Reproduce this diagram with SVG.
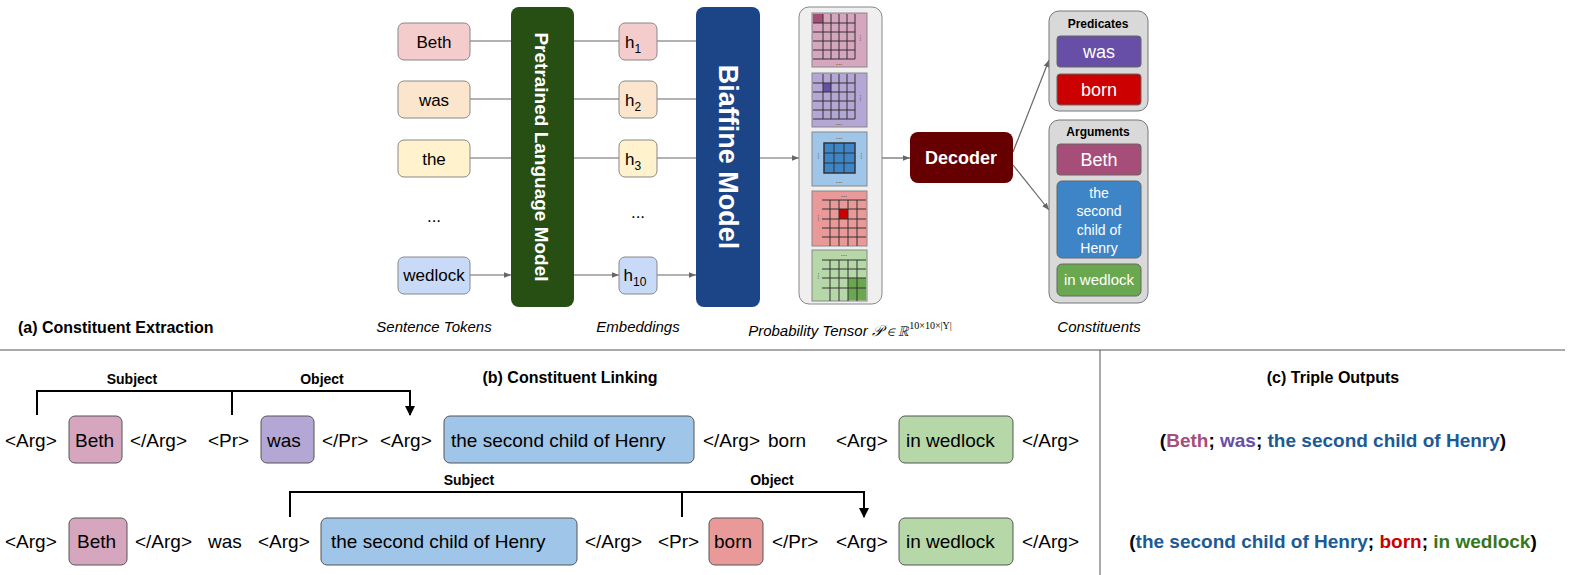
<svg xmlns="http://www.w3.org/2000/svg" width="1578" height="575" viewBox="0 0 1578 575">
<defs>
<marker id="ah" viewBox="0 0 10 10" refX="10" refY="5" markerWidth="6" markerHeight="6" orient="auto"><path d="M0,1 L10,5 L0,9 z" fill="#666"/></marker>
<marker id="bh" viewBox="0 0 10 10" refX="9" refY="5" markerWidth="5" markerHeight="5" orient="auto"><path d="M0,0 L10,5 L0,10 z" fill="#000"/></marker>
<style>
text{font-family:"Liberation Sans",Arial,sans-serif}
.tok{stroke:#888;stroke-width:1}
.t{font-size:17px;fill:#000;text-anchor:middle}
.w{fill:#fff;text-anchor:middle}
.cap{font-size:15px;font-style:italic;text-anchor:middle}
.b{font-weight:bold}
.con{stroke:#666;stroke-width:1.2;fill:none;marker-end:url(#ah)}
.br{stroke:#000;stroke-width:2;fill:none}
.bra{stroke:#000;stroke-width:2;fill:none;marker-end:url(#bh)}
.s{font-size:19px;fill:#000}
.lb{font-size:14px;font-weight:bold;text-anchor:middle}
.g{stroke:#333;stroke-width:1;fill:none}
.dot{font-size:8px;fill:#333;text-anchor:middle}
</style>
</defs>
<g id="connectors">
<path class="con" d="M470,41 H511 M470,99 H511 M470,158 H511 M470,275 H511"/>
<path class="con" d="M574,41 H619 M574,99 H619 M574,158 H619 M574,275 H619"/>
<path class="con" d="M657,41 H696 M657,99 H696 M657,158 H696 M657,275 H696"/>
<path class="con" d="M760,158 H799"/>
<path class="con" d="M882,158 H910"/>
<path class="con" d="M1013,152 L1049,60"/>
<path class="con" d="M1013,165 L1049,210"/>
<path class="br" d="M37,391 H410"/><path class="bra" d="M37,390 V415 M232,390 V415 M410,390 V415"/>
<path class="br" d="M290,492 H864"/><path class="bra" d="M290,491 V517 M682,491 V517 M864,491 V517"/>
</g>
<g id="tokens">
<rect class="tok" x="398" y="23" width="72" height="37" rx="6" fill="#f4cccc"/><text class="t" x="434" y="48">Beth</text>
<rect class="tok" x="398" y="81" width="72" height="37" rx="6" fill="#fce5cd"/><text class="t" x="434" y="106">was</text>
<rect class="tok" x="398" y="140" width="72" height="37" rx="6" fill="#fff2cc"/><text class="t" x="434" y="165">the</text>
<text class="t" x="434" y="222">...</text>
<rect class="tok" x="398" y="257" width="72" height="37" rx="6" fill="#c9daf8"/><text class="t" x="434" y="281">wedlock</text>
</g>
<g id="plm"><rect x="511" y="7" width="63" height="300" rx="8" fill="#274e13"/><text class="w b" font-size="19" transform="translate(542,157) rotate(90)" dy="7">Pretrained Language Model</text></g>
<g id="embeddings">
<rect class="tok" x="619" y="23" width="38" height="37" rx="6" fill="#f4cccc"/><text class="t" x="633" y="48">h<tspan font-size="12" dy="5">1</tspan></text>
<rect class="tok" x="619" y="81" width="38" height="37" rx="6" fill="#fce5cd"/><text class="t" x="633" y="106">h<tspan font-size="12" dy="5">2</tspan></text>
<rect class="tok" x="619" y="140" width="38" height="37" rx="6" fill="#fff2cc"/><text class="t" x="633" y="165">h<tspan font-size="12" dy="5">3</tspan></text>
<text class="t" x="638" y="218">...</text>
<rect class="tok" x="619" y="257" width="38" height="37" rx="6" fill="#c9daf8"/><text class="t" x="635" y="281">h<tspan font-size="12" dy="5">10</tspan></text>
</g>
<g id="biaffine"><rect x="696" y="7" width="64" height="300" rx="8" fill="#1c4587"/><text class="w b" font-size="27" transform="translate(728,157) rotate(90)" dy="9">Biaffine Model</text></g>
<g id="tensor">
<rect x="799" y="7" width="83" height="297" rx="10" fill="#efefef" stroke="#888"/>
<rect x="812" y="13" width="55" height="54" fill="#d5a6bd" stroke="#888"/>
<rect x="813" y="14" width="10" height="9" fill="#a64d79"/>
<path class="g" d="M813,23 H855 M813,32 H855 M813,41 H855 M813,50 H855 M813,59 H855 M823,14 V59 M831,14 V59 M839,14 V59 M847,14 V59 M855,14 V59"/>
<text class="dot" x="839" y="65">...</text><text class="dot" transform="translate(860,38) rotate(90)">...</text>
<rect x="812" y="73" width="55" height="54" fill="#b4a7d6" stroke="#888"/>
<rect x="823" y="83" width="8" height="9" fill="#674ea7"/>
<path class="g" d="M813,83 H855 M813,92 H855 M813,101 H855 M813,110 H855 M813,119 H855 M823,74 V119 M831,74 V119 M839,74 V119 M847,74 V119 M855,74 V119"/>
<text class="dot" x="839" y="125">...</text><text class="dot" transform="translate(860,98) rotate(90)">...</text>
<rect x="812" y="132" width="55" height="54" fill="#9fc5e8" stroke="#888"/>
<rect x="824" y="143" width="31" height="30" fill="#3d85c6" stroke="#333" stroke-width="1.5"/>
<path class="g" d="M824,153 H855 M824,163 H855 M834,143 V173 M844,143 V173"/>
<text class="dot" x="839" y="139">...</text><text class="dot" x="839" y="183">...</text><text class="dot" transform="translate(818,156) rotate(90)">...</text><text class="dot" transform="translate(861,156) rotate(90)">...</text>
<rect x="812" y="191" width="55" height="55" fill="#ea9999" stroke="#888"/>
<rect x="839" y="209" width="9" height="10" fill="#cc0000"/>
<path class="g" d="M822,200 H866 M822,209 H866 M822,219 H866 M822,228 H866 M822,237 H866 M830,200 V246 M839,200 V246 M848,200 V246 M857,200 V246"/>
<text class="dot" x="844" y="197">...</text><text class="dot" transform="translate(818,218) rotate(90)">...</text>
<rect x="812" y="250" width="55" height="51" fill="#b6d7a8" stroke="#888"/>
<rect x="848" y="278" width="18" height="22" fill="#6aa84f"/>
<path class="g" d="M822,260 H866 M822,269 H866 M822,278 H866 M822,288 H866 M830,260 V301 M839,260 V301 M848,260 V301 M857,260 V301"/>
<text class="dot" x="844" y="256">...</text><text class="dot" transform="translate(818,276) rotate(90)">...</text>
</g>
<g id="decoder"><rect x="910" y="132" width="103" height="51" rx="8" fill="#660000"/><text class="w b" font-size="18" x="961" y="164">Decoder</text></g>
<g id="predicates">
<rect x="1049" y="11" width="99" height="100" rx="10" fill="#d9d9d9" stroke="#777"/>
<text class="b" font-size="12" x="1098" y="28" text-anchor="middle">Predicates</text>
<rect x="1057" y="36" width="84" height="31" rx="3" fill="#674ea7" stroke="#666"/><text class="w" font-size="18" x="1099" y="58">was</text>
<rect x="1057" y="74" width="84" height="31" rx="3" fill="#cc0000" stroke="#666"/><text class="w" font-size="18" x="1099" y="96">born</text>
</g>
<g id="arguments">
<rect x="1049" y="120" width="99" height="183" rx="10" fill="#d9d9d9" stroke="#777"/>
<text class="b" font-size="12" x="1098" y="136" text-anchor="middle">Arguments</text>
<rect x="1057" y="144" width="84" height="31" rx="3" fill="#a64d79" stroke="#666"/><text class="w" font-size="18" x="1099" y="166">Beth</text>
<rect x="1057" y="181" width="84" height="77" rx="5" fill="#3d85c6" stroke="#666"/>
<text class="w" font-size="14"><tspan x="1099" y="198">the</tspan><tspan x="1099" y="216">second</tspan><tspan x="1099" y="235">child of</tspan><tspan x="1099" y="253">Henry</tspan></text>
<rect x="1057" y="264" width="84" height="32" rx="5" fill="#6aa84f" stroke="#666"/><text class="w" font-size="15" x="1099" y="285">in wedlock</text>
</g>
<g id="captions">
<text class="b" font-size="16" x="18" y="333">(a) Constituent Extraction</text>
<text class="cap" x="434" y="332">Sentence Tokens</text>
<text class="cap" x="638" y="332">Embeddings</text>
<text class="cap" x="850" y="336">Probability Tensor <tspan font-family="'Liberation Serif',serif">𝒫 ∈ ℝ</tspan><tspan font-size="10" dy="-7" font-style="normal" font-family="'Liberation Serif',serif">10×10×|Y|</tspan></text>
<text class="cap" x="1099" y="332">Constituents</text>
<text class="b" font-size="16" x="570" y="383" text-anchor="middle">(b) Constituent Linking</text>
<text class="b" font-size="16" x="1333" y="383" text-anchor="middle">(c) Triple Outputs</text>
</g>
<g id="dividers" stroke="#555" stroke-width="1"><path d="M0,350 H1565 M1100,350 V575"/></g>
<g id="row1">
<text class="lb" x="132" y="384">Subject</text><text class="lb" x="322" y="384">Object</text>
<rect x="69" y="416" width="53" height="47" rx="6" fill="#d5a6bd" stroke="#555"/>
<rect x="261" y="416" width="53" height="47" rx="6" fill="#b4a7d6" stroke="#555"/>
<rect x="444" y="416" width="250" height="47" rx="6" fill="#9fc5e8" stroke="#555"/>
<rect x="899" y="416" width="114" height="47" rx="6" fill="#b6d7a8" stroke="#555"/>
<text class="s" y="447"><tspan x="5">&lt;Arg&gt;</tspan><tspan x="75">Beth</tspan><tspan x="130">&lt;/Arg&gt;</tspan><tspan x="208">&lt;Pr&gt;</tspan><tspan x="267">was</tspan><tspan x="322">&lt;/Pr&gt;</tspan><tspan x="380">&lt;Arg&gt;</tspan><tspan x="451">the second child of Henry</tspan><tspan x="703">&lt;/Arg&gt;</tspan><tspan x="768">born</tspan><tspan x="836">&lt;Arg&gt;</tspan><tspan x="906">in wedlock</tspan><tspan x="1022">&lt;/Arg&gt;</tspan></text>
</g>
<g id="row2">
<text class="lb" x="469" y="485">Subject</text><text class="lb" x="772" y="485">Object</text>
<rect x="69" y="518" width="58" height="47" rx="6" fill="#d5a6bd" stroke="#555"/>
<rect x="321" y="518" width="256" height="47" rx="6" fill="#9fc5e8" stroke="#555"/>
<rect x="709" y="518" width="54" height="47" rx="6" fill="#ea9999" stroke="#555"/>
<rect x="899" y="518" width="114" height="47" rx="6" fill="#b6d7a8" stroke="#555"/>
<text class="s" y="548"><tspan x="5">&lt;Arg&gt;</tspan><tspan x="77">Beth</tspan><tspan x="135">&lt;/Arg&gt;</tspan><tspan x="208">was</tspan><tspan x="258">&lt;Arg&gt;</tspan><tspan x="331">the second child of Henry</tspan><tspan x="585">&lt;/Arg&gt;</tspan><tspan x="658">&lt;Pr&gt;</tspan><tspan x="714">born</tspan><tspan x="772">&lt;/Pr&gt;</tspan><tspan x="836">&lt;Arg&gt;</tspan><tspan x="906">in wedlock</tspan><tspan x="1022">&lt;/Arg&gt;</tspan></text>
</g>
<g id="triples" font-weight="bold">
<text class="s b" x="1333" y="447" text-anchor="middle">(<tspan fill="#a64d79">Beth</tspan>; <tspan fill="#674ea7">was</tspan>; <tspan fill="#1c5a96">the second child of Henry</tspan>)</text>
<text class="s b" x="1333" y="548" text-anchor="middle">(<tspan fill="#1c5a96">the second child of Henry</tspan>; <tspan fill="#cc0000">born</tspan>; <tspan fill="#38761d">in wedlock</tspan>)</text>
</g>
</svg>
